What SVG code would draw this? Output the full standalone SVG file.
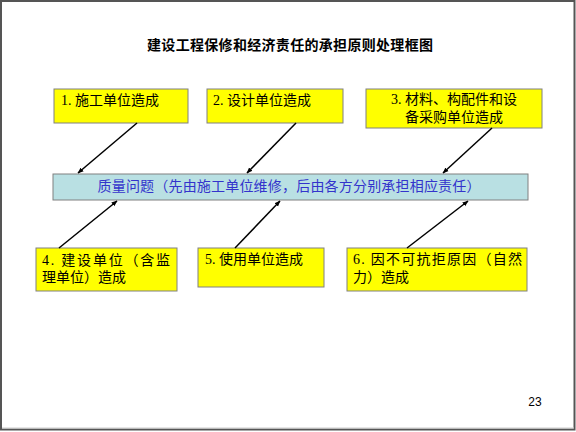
<svg xmlns="http://www.w3.org/2000/svg" width="576" height="432" viewBox="0 0 576 432">
<defs>
<marker id="ah" viewBox="0 0 10 10" refX="9" refY="5" markerWidth="6" markerHeight="6" orient="auto" markerUnits="userSpaceOnUse">
<path d="M0,1 L10,5 L0,9 z" fill="#000"/>
</marker>
<style>
.box{fill:#ffff00;stroke:#808080;stroke-width:1}
.mid{fill:#b9e0e3;stroke:#808080;stroke-width:1}
.t{font-family:"Liberation Serif","Noto Sans CJK SC",serif;font-size:14px;fill:#000}
.m{font-family:"Liberation Serif","Noto Sans CJK SC",serif;font-size:14px;fill:#3333cc}
.c{stroke:#000;stroke-width:1.5;fill:none;marker-end:url(#ah)}
</style>
</defs>
<rect x="0" y="0" width="576" height="432" fill="#fff"/>
<rect x="1" y="1" width="573.5" height="428.5" fill="none" stroke="#555" stroke-width="2"/>
<line x1="2" y1="428" x2="574" y2="428" stroke="#ccc" stroke-width="1"/>
<text x="290" y="50" text-anchor="middle" class="t" style="font-weight:bold" textLength="286">建设工程保修和经济责任的承担原则处理框图</text>
<g id="n1"><rect class="box" x="54" y="89" width="134" height="34"/><text class="t" x="61" y="105">1. 施工单位造成</text></g>
<g id="n2"><rect class="box" x="207" y="89" width="136" height="34"/><text class="t" x="213" y="105">2. 设计单位造成</text></g>
<g id="n3"><rect class="box" x="366" y="89" width="176" height="39"/><text class="t" x="454" y="104" text-anchor="middle">3. 材料、构配件和设</text><text class="t" x="454" y="122" text-anchor="middle">备采购单位造成</text></g>
<g id="center"><rect class="mid" x="53" y="174" width="475" height="26"/><text class="m" x="289" y="191" text-anchor="middle" textLength="383">质量问题（先由施工单位维修，后由各方分别承担相应责任）</text></g>
<g id="n4"><rect class="box" x="36" y="248" width="141" height="43"/><text class="t" x="42" y="265" textLength="128">4. 建设单位（含监</text><text class="t" x="42" y="282">理单位）造成</text></g>
<g id="n5"><rect class="box" x="198" y="248" width="126" height="39"/><text class="t" x="205" y="264">5. 使用单位造成</text></g>
<g id="n6"><rect class="box" x="347" y="248" width="180" height="43"/><text class="t" x="353" y="264" textLength="169">6. 因不可抗拒原因（自然</text><text class="t" x="353" y="282">力）造成</text></g>
<g id="connectors">
<line class="c" x1="137" y1="123" x2="78" y2="173"/>
<line class="c" x1="296" y1="123" x2="247" y2="173"/>
<line class="c" x1="492" y1="128" x2="443" y2="173"/>
<line class="c" x1="59" y1="248" x2="117" y2="201"/>
<line class="c" x1="235" y1="248" x2="280" y2="201"/>
<line class="c" x1="407" y1="248" x2="468" y2="201"/>
</g>
<text x="535" y="406" text-anchor="middle" style="font-family:'Liberation Sans',Arial,sans-serif;font-size:12px;fill:#000">23</text>
</svg>
